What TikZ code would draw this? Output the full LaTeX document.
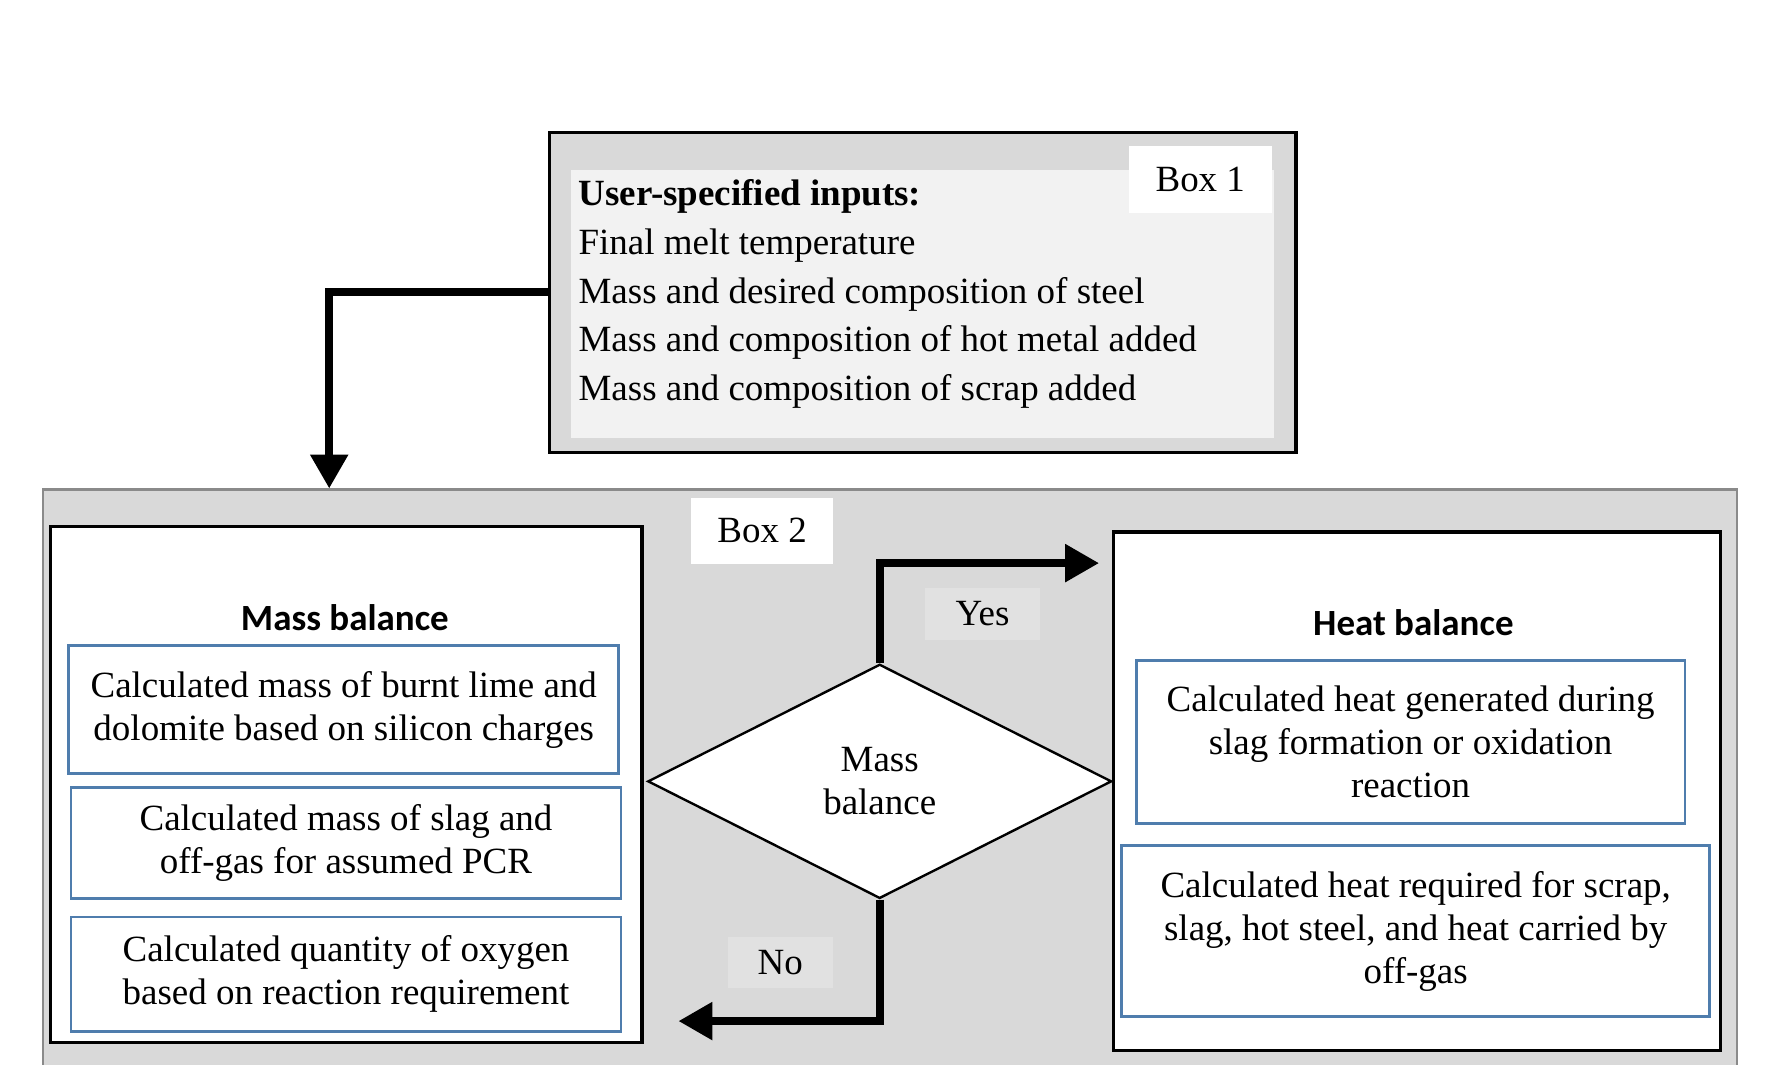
\documentclass[tikz,border=0pt]{standalone}
\usepackage{fontspec}
\setmainfont{Liberation Serif}
\newfontfamily\calibri{Carlito}
\usepackage{xcolor}
\usepackage{tikz}
\usetikzlibrary{shapes.geometric,arrows.meta,positioning,calc}
\definecolor{panelgray}{HTML}{D9D9D9}
\definecolor{lightpanel}{HTML}{F2F2F2}
\definecolor{labelgray}{HTML}{E1E1E1}
\definecolor{boxblue}{HTML}{4F7DAD}
\definecolor{framegray}{HTML}{8A8A8A}

\begin{document}
\begin{tikzpicture}[x=0.01cm, y=-0.01cm,
    txt/.style={font=\fontsize{9.3}{10.8}\selectfont, align=center},
    balbox/.style={draw=black, line width=0.8pt, fill=white, inner sep=0pt, anchor=north west},
    calcbox/.style={draw=boxblue, line width=0.7pt, fill=white, txt, inner sep=0pt, minimum width=4.86cm},
    boxtag/.style={fill=white, txt, minimum width=1.26cm, minimum height=0.59cm},
    answer/.style={fill=labelgray, txt, minimum height=0.42cm},
    balhead/.style={font=\calibri\bfseries\fontsize{9.3}{11}\selectfont},
    flow/.style={line width=2pt, -{Triangle[length=0.3cm, width=0.32cm]}}]
    \useasboundingbox (0,0) rectangle (1568,941);

    % Box 1
    \node [draw, line width=0.8pt, fill=panelgray, minimum width=6.6cm, minimum height=2.83cm] (box1) at (816,258.5) {};
    \fill [lightpanel] (505,150) rectangle (1127,387);
    \node [boxtag] (tag1) at (1061.5,159) {Box 1};
    \node [anchor=west, align=left, inner sep=0pt, font=\fontsize{9.3}{12.26}\selectfont] (inputs) at (511,260)
        {\textbf{User-specified inputs:}\\Final melt temperature\\Mass and desired composition of steel\\Mass and composition of hot metal added\\Mass and composition of scrap added};

    % Box 2
    \node [draw=framegray, line width=0.6pt, fill=panelgray, inner sep=0pt, anchor=north west,
        minimum width=14.97cm, minimum height=5.2cm] (box2) at (37,432) {};
    \node [boxtag] (tag2) at (674,469.5) {Box 2};

    \node [balbox, minimum width=5.23cm, minimum height=4.56cm] (mass) at (43,464) {};
    \node [balhead] (masshead) at (305,546) {Mass balance};
    \node [calcbox, minimum height=1.13cm] (m1) at (304,627.5) {Calculated mass of burnt lime and\\dolomite based on silicon charges};
    \node [calcbox, minimum height=0.98cm, below=0.1cm of m1, xshift=0.02cm] (m2) {Calculated mass of slag and\\off-gas for assumed PCR};
    \node [calcbox, minimum height=1.01cm, below=0.14cm of m2] (m3) {Calculated quantity of oxygen\\based on reaction requirement};

    \node [balbox, minimum width=5.37cm, minimum height=4.58cm] (heat) at (983,469) {};
    \node [balhead] (heathead) at (1250,551) {Heat balance};
    \node [calcbox, minimum width=4.85cm, minimum height=1.44cm] (h1) at (1247.5,656) {Calculated heat generated during\\slag formation or oxidation\\reaction};
    \node [calcbox, minimum width=5.2cm, minimum height=1.51cm] (h2) at (1252,823.5) {Calculated heat required for scrap,\\slag, hot steel, and heat carried by\\off-gas};

    \node [draw, diamond, fill=white, line width=0.6pt, inner sep=0pt, txt,
        minimum width=4.1cm, minimum height=2.07cm] (check) at (778,691) {Mass\\balance};
    \node [answer, minimum width=1.02cm] (yes) at (869,543) {Yes};
    \node [answer, minimum width=0.93cm] (no) at (690,851) {No};

    \coordinate (yesend) at (972,498);
    \coordinate (noend) at (600,903);

    \draw [flow] (box1.west) -| ([xshift=2.54cm]box2.north west);
    \draw [flow] (check.north) |- (yesend);
    \draw [flow] (check.south) |- (noend);
\end{tikzpicture}
\end{document}
